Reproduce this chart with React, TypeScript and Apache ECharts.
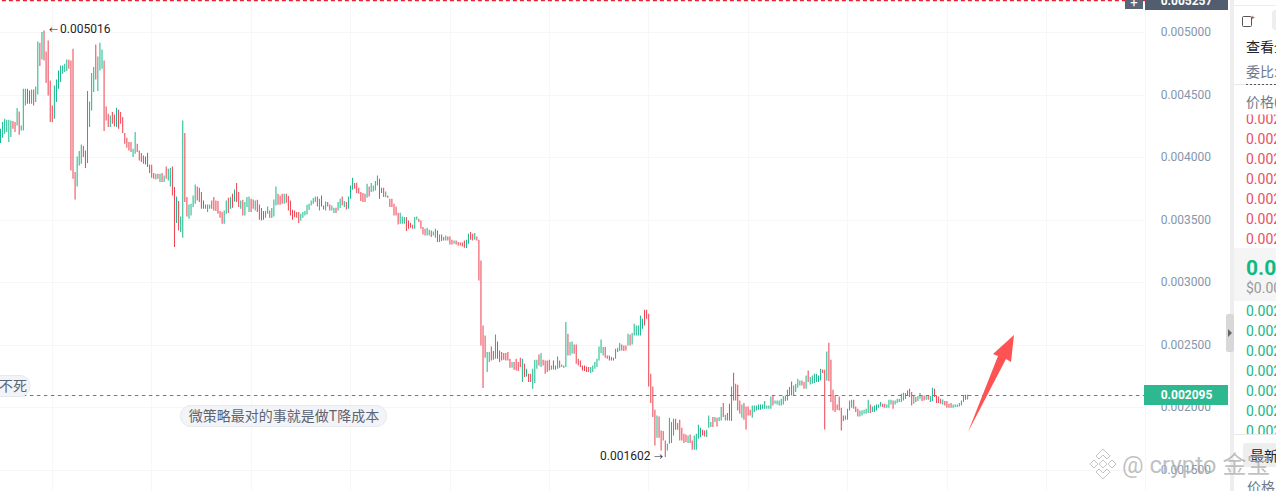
import React, { useEffect, useRef } from "react";
import * as echarts from "echarts";

// Per-candle highs, lows (in millionths of a price unit), and direction (g = up, r = down)
const highs = [
  4229,4283,4309,4301,4301,4296,4291,4283,4395,4368,
  4256,4549,4549,4549,4536,4544,4544,4568,4928,4917,
  5003,5016,4848,4936,4616,4416,4576,4624,4696,4736,
  4736,4749,4784,4781,4776,4869,3883,4008,4051,4104,
  4091,4056,4531,4448,4675,4723,4904,4808,4917,4864,
  4776,4408,4349,4336,4363,4344,4397,4381,4363,4323,
  4195,4157,4123,4123,4069,4203,4109,4056,4035,4016,
  4008,4037,3944,3941,3875,3869,3869,3869,3875,3856,
  3928,3909,3915,3928,3763,3688,3651,3528,4296,4195,
  3683,3624,3629,3696,3784,3768,3757,3723,3656,3624,
  3624,3624,3656,3683,3656,3651,3571,3563,3576,3656,
  3677,3683,3709,3744,3795,3723,3656,3661,3643,3683,
  3688,3669,3664,3656,3661,
  3624,3595,3571,3571,3608,3576,3595,3664,3768,3709,
  3696,3709,3709,3709,3691,3656,3581,3576,3563,3563,
  3549,3563,3571,3621,3629,3656,3675,3688,3688,3669,
  3696,3616,3648,3643,3624,3616,3597,3597,3643,3669,
  3688,3651,3643,3688,3776,3837,3795,3797,3757,3723,
  3715,3709,3789,3768,3795,3776,3811,3856,3829,3757,
  3757,3728,3696,3669,3669,3629,3608,3557,3557,3528,
  3523,3523,3496,3477,3461,3523,3528,3509,3496,3443,
  3429,3437,3421,3416,3408,3429,3416,3384,3384,3363,
  3376,3368,3368,3341,3336,3336,3323,3320,3320,3336,
  3341,3389,3403,3389,3395,3368,3341,3176,2656,2576,
  2443,2443,2488,2451,2584,2528,2456,2443,2435,2435,
  2443,2389,2363,2363,2389,2363,
  2397,2389,2349,2309,2269,2269,2309,2381,2381,2424,
  2435,2381,2376,2376,2381,2336,2376,2336,2408,2376,
  2344,2336,2683,2589,2523,2528,2504,2504,2389,2376,
  2336,2336,2328,2323,2323,2336,2363,2389,2488,2544,
  2483,2483,2416,2416,2403,2397,2469,2477,2515,2504,
  2496,2496,2589,2584,2595,2669,2656,2656,2736,2709,
  2781,2781,2749,2269,2168,1981,1936,1928,1816,1811,
  1736,1709,1917,1883,1909,1909,1875,1901,1837,1789,
  1784,1776,1784,1736,1776,1789,1861,1837,1821,1816,
  1821,1936,1883,1923,1923,1917,1923,2003,2035,1941,
  1955,
  2029,
  2168,2277,2189,2181,2056,2024,2035,2008,2008,1981,
  2016,2016,2016,2024,2024,2024,2051,2016,2016,2088,
  2091,2056,2056,2056,2069,2091,2096,2141,2163,2208,
  2176,2189,2229,2216,2216,2203,2256,2296,2243,2256,
  2269,2269,2256,2309,2304,2301,2448,2517,2381,2141,
  2096,2024,2088,1997,1936,1936,1989,2056,2061,2061,
  2008,1989,1976,1976,1981,1989,2061,2024,2008,2016,
  2024,2024,2043,2029,2029,2024,2061,2061,2056,2056,
  2069,2069,2109,2117,2115,2136,2149,2123,2096,2083,
  2091,2115,2096,2096,2096,2096,2091,2157,2149,2096,
  2088,2069,2064,2051,2051,2029,2035,2024,2024,2024,
  2035,2056,2096,2101,2101,
];

const lows = [
  4115,4157,4189,4203,4123,4163,4229,4203,4256,4181,
  4216,4216,4416,4429,4429,4429,4416,4443,4504,4731,
  4784,4776,4595,4496,4283,4283,4309,4443,4549,4603,
  4669,4683,4691,4709,3896,3829,3664,3768,3936,3949,
  4003,3915,3955,4243,4376,4523,4624,4531,4696,4709,
  4211,4296,4243,4243,4269,4248,4243,4229,4269,4195,
  4109,4077,4056,4043,4003,4029,4043,3976,3963,3949,
  3944,3923,3875,3837,3829,3824,3829,3803,3803,3803,
  3829,3816,3768,3696,3283,3475,3416,3403,3357,3643,
  3528,3509,3536,3603,3629,3656,3643,3589,3589,3589,
  3563,3589,3589,3576,3571,3549,3517,3469,3469,3549,
  3555,3589,3597,3648,3643,3603,3589,3536,3536,3603,
  3563,3563,3589,3576,3563,
  3501,3496,3501,3517,3549,3517,3515,3528,3616,3621,
  3621,3629,3629,3637,3576,3536,3501,3523,3517,3475,
  3496,3517,3536,3544,3581,3616,3629,3643,3608,3576,
  3608,3584,3576,3608,3576,3576,3555,3555,3576,3595,
  3616,3603,3584,3589,3669,3741,3749,3715,3709,3651,
  3643,3643,3677,3688,3723,3728,3736,3776,3669,3715,
  3683,3683,3675,3603,3603,3536,3536,3464,3469,3469,
  3469,3411,3429,3437,3429,3429,3501,3483,3429,3384,
  3376,3376,3376,3363,3376,3357,3323,3323,3331,3336,
  3336,3336,3304,3304,3309,3304,3296,3296,3288,3277,
  3275,3309,3341,3336,3341,3336,3016,2496,2155,2397,
  2283,2363,2376,2381,2389,2389,2363,2376,2381,2376,
  2376,2317,2317,2301,2296,2291,
  2323,2203,2243,2248,2203,2203,2149,2195,2309,2336,
  2323,2336,2269,2283,2296,2301,2304,2301,2309,2317,
  2323,2315,2323,2416,2416,2429,2429,2349,2336,2323,
  2296,2291,2283,2283,2275,2283,2309,2323,2376,2435,
  2416,2397,2389,2376,2376,2376,2389,2443,2451,2456,
  2451,2456,2496,2496,2504,2576,2576,2576,2576,2629,
  2656,2709,2168,2035,1923,1696,1757,1757,1656,1736,
  1603,1656,1709,1715,1776,1821,1821,1736,1736,1715,
  1723,1715,1715,1661,1661,1661,1749,1763,1776,1768,
  1763,1837,1843,1843,1883,1848,1891,1896,1923,1896,
  1896,
  1896,
  1891,2056,2056,1976,1949,1917,1901,1824,1936,1936,
  1917,1963,1976,1981,1981,1989,1989,1989,1989,1989,
  2016,2029,2024,2016,2016,2024,2051,2056,2096,2096,
  2096,2123,2157,2176,2176,2149,2149,2203,2184,2189,
  2195,2203,2203,2216,2275,1824,2216,2211,2043,1976,
  1963,1981,1976,1816,1891,1901,1901,1976,1997,1989,
  1963,1928,1928,1936,1949,1949,1955,1955,1963,1963,
  1976,1997,2008,2003,1997,1997,1997,2024,1989,2024,
  2035,2043,2043,2056,2069,2096,2083,2016,2029,2043,
  2051,2069,2051,2056,2061,2061,2043,2051,2083,2035,
  2035,2029,2024,2016,1997,1997,1997,1997,2003,2003,
  2008,2016,2043,2061,2064,
];

const directions = [
  "ggggggrrgr","gggrrgrggr","grrrrrgggg","gggrrrrggg","rrggggrggg",
  "rrrgrrgrrr","rrrrggrrrr","rrrrrgrgrg","rggrrgrggr","rggggrrrrg",
  "ggrrrrrrgg","rgrgrrgrgg","grrgr",
  "rrrggrgggr","rrgrrrrrrr","ggggggggrg","rrgrrggrgg","rgrgggrrrr",
  "rrgrggggrr","rgrrrrrrgg","grrrrggrrr","rggrggrgrr","grrrgrrrrr",
  "ggrrgrrrrr","ggrrgrrrrr","rrgrrr",
  "rgrgrrgggr","grrrrgrggr","gggrggrrrr","rrrrgggggg","grrrrrgggr",
  "rrgrgggggg","rrrrrrgrrr","rggggrrrrr","rgrrggggrr","gggrgrggrg",
  "r",
  "r",
  "grrrrgrrrr","gggggggggg","rggggggggr","ggggrrgrgg","ggggrrgrrr",
  "rrrrrggggr","rrgggggrgg","gggrrgggrg","gggggrrrgr","ggrrgrggrr",
  "rrgrrrrggg","gggrg",
].join("");

const openPrice = 5257;
const lastPrice = 2095;
const peakLabel = "0.005016";
const troughLabel = "0.001602";
const askRows = [119, 139, 159, 179, 199, 219, 239];
const bidRows = [311, 331, 351, 371, 391, 411, 431];

const UP = "#14b88a";
const DOWN = "#ee3f4f";
const FONT = "Roboto, 'Noto Sans CJK SC', sans-serif";
const firstSlot = 23;

function renderCandle(_p: any, api: any) {
  const slot = api.value(0);
  const open = api.value(1);
  const close = api.value(2);
  const top = api.coord([slot, api.value(4)]);
  const bottom = api.coord([slot, api.value(3)]);
  const w = 1;
  return {
    type: "rect",
    shape: { x: top[0] - w / 2, y: top[1], width: w, height: Math.max(bottom[1] - top[1], 1) },
    style: { fill: close >= open ? UP : DOWN },
  };
}

const txt = (text: string, x: number, y: number, fill: string, size = 14, extra: any = {}) => ({
  type: "text",
  z: 120,
  x,
  y,
  style: { text, fill, font: `${extra.weight || 400} ${size}px ${FONT}`, verticalAlign: "middle", align: extra.align || "left" },
});
const box = (x: number, y: number, width: number, height: number, fill: string, r = 0, stroke?: string, z = 110) => ({
  type: "rect",
  z,
  shape: { x, y, width, height, r },
  style: { fill, stroke, lineWidth: stroke ? 1 : 0 },
});

export default function App() {
  const ref = useRef<HTMLDivElement>(null);
  useEffect(() => {
    const chart = echarts.init(ref.current!, null, { renderer: "svg" });
    const n = Math.min(highs.length, lows.length, directions.length);
    const data: number[][] = [];
    for (let i = 0; i < n; i++) {
      const hi = highs[i] / 1e6;
      const lo = lows[i] / 1e6;
      const up = directions[i] === "g";
      data.push([i + firstSlot, up ? lo : hi, up ? hi : lo, lo, hi]);
    }
    const logoPiece = (pts: number[][], z = 115) => ({
      type: "polygon",
      z,
      shape: { points: pts },
      style: { fill: "rgba(255,255,255,0.75)", stroke: "rgba(150,150,150,0.55)", lineWidth: 1 },
    });
    const priceLine = (value: number, color: string, width: number, dash: number[]) => ({
      type: "line",
      data: [[0, value / 1e6], [576, value / 1e6]],
      symbol: "none",
      silent: true,
      clip: false,
      z: 3,
      lineStyle: { color, type: dash, width },
    });
    chart.setOption({
      animation: false,
      backgroundColor: "#ffffff",
      grid: { left: -47.1, width: 1192.8, top: -30.125, height: 562.5, containLabel: false, outerBoundsMode: "none" },
      xAxis: {
        type: "value",
        min: 0,
        max: 576,
        interval: 48,
        axisLine: { show: false },
        axisTick: { show: false },
        axisLabel: { show: false },
        splitLine: { show: true, lineStyle: { color: "#f7f7f8", width: 1 } },
      },
      yAxis: {
        type: "value",
        position: "right",
        min: 0.001,
        max: 0.0055,
        interval: 0.0005,
        axisLine: { show: false },
        axisTick: { show: true, length: 5, lineStyle: { color: "#f5f5f6" } },
        axisLabel: {
          margin: 15,
          color: "#8496ab",
          fontSize: 12,
          fontFamily: FONT,
          formatter: (v: number) => v.toFixed(6),
        },
        splitLine: { show: true, lineStyle: { color: "#f6f6f7", width: 1 } },
      },
      series: [
        {
          type: "custom",
          renderItem: renderCandle,
          data,
          encode: { x: 0, y: [1, 2, 3, 4] },
          clip: true,
        },
        priceLine(lastPrice, "#2f9e80", 1, [3.5, 3.5]),
        priceLine(openPrice, "#e5202f", 2, [4, 3]),
      ],
      graphic: [
        // Extreme markers
        txt("←", 49, 30, "#1e2329", 9),
        txt(peakLabel, 60, 29, "#1e2329", 12),
        txt(troughLabel, 600, 456, "#1e2329", 12),
        txt("→", 654, 456.5, "#1e2329", 9),
        // Note pills
        box(-30, 375.5, 60, 21, "#f3f4f8", 10, "#e6e8ef"),
        txt("不死", -1, 385.5, "#5b6472", 14),
        box(180.5, 405.5, 206, 21, "#f3f4f8", 10, "#e6e8ef"),
        txt("微策略最对的事就是做T降成本", 284, 416, "#5b6472", 14, { align: "center" }),
        // Red arrow
        {
          type: "polygon",
          z: 112,
          shape: { points: [[968, 432], [998, 356], [993, 354], [1014, 335], [1011, 362], [1006, 359]] },
          style: { fill: "#ff5252" },
        },
        // Price tags
        box(1125, -2, 18, 11, "#5a6678"),
        txt("+", 1134, 2, "#ffffff", 13, { align: "center" }),
        box(1145, -2, 83, 12, "#525e70"),
        txt("0.005257", 1186.5, 1, "#ffffff", 12, { align: "center", weight: 700 }),
        box(1144, 385, 84, 20, "#2db88f"),
        txt("0.002095", 1186.5, 395, "#ffffff", 12, { align: "center", weight: 700 }),
        // Side panel
        box(1230, 0, 46, 491, "#ffffff", 0, undefined, 104),
        box(1230, 0, 4, 491, "#eeeeee", 0, undefined, 105),
        box(1234, 5, 42, 1, "#ededed", 0, undefined, 105),
        box(1242.5, 16.5, 9, 10, "#ffffff", 1, "#555555"),
        txt("+", 1250.5, 17, "#555555", 8),
        box(1272, 10, 10, 20, "#eeeeee", 3),
        txt("查看全", 1246, 47, "#1e2329", 14),
        txt("委比:", 1246, 72, "#707a8a", 14),
        box(1234, 84, 42, 1, "#e8e8e8", 0, undefined, 105),
        {
          type: "line",
          z: 111,
          shape: { x1: 1246, y1: 84.5, x2: 1276, y2: 84.5 },
          style: { stroke: "#555555", lineDash: [2, 2], lineWidth: 1 },
        },
        txt("价格(", 1246, 102, "#707a8a", 14),
        ...askRows.map((y) => txt("0.002", 1246, y, "#e9505f", 14)),
        box(1234, 112, 42, 2.5, "#ffffff", 0, undefined, 125),
        box(1234, 248, 42, 53, "#f5f5f5", 0, undefined, 105),
        txt("0.00", 1246, 268, "#10b981", 21, { weight: 700 }),
        txt("$0.00", 1246, 288, "#9a9a9a", 14),
        ...bidRows.map((y) => txt("0.002", 1246, y, "#12b886", 14)),
        box(1234, 434, 42, 8, "#ffffff", 0, undefined, 125),
        box(1234, 434, 42, 1, "#e8e8e8", 0, undefined, 126),
        box(1243, 443, 40, 24, "#eeeeee", 3),
        txt("最新", 1250, 456, "#1e2329", 14),
        txt("价格", 1247, 487, "#707a8a", 14),
        box(1226, 314, 8, 38, "#d8d8d8", 2),
        { type: "polygon", z: 115, shape: { points: [[1228, 329], [1232, 333], [1228, 337]] }, style: { fill: "#666666" } },
        // Watermark
        logoPiece([[1103, 449], [1110, 456], [1107, 459], [1103, 455], [1099, 459], [1096, 456]]),
        logoPiece([[1103, 479], [1110, 472], [1107, 469], [1103, 473], [1099, 469], [1096, 472]]),
        logoPiece([[1090, 464], [1094, 460], [1098, 464], [1094, 468]]),
        logoPiece([[1116, 464], [1112, 460], [1108, 464], [1112, 468]]),
        logoPiece([[1103, 460], [1107, 464], [1103, 468], [1099, 464]]),
        {
          type: "text",
          z: 130,
          x: 1122,
          y: 465,
          style: {
            text: "@ crypto 金宝",
            fill: "rgba(130,130,130,0.5)",
            stroke: "rgba(255,255,255,0.5)",
            lineWidth: 1,
            font: `400 24px ${FONT}`,
            verticalAlign: "middle",
          },
        },
      ],
    });
    return () => chart.dispose();
  }, []);
  return (
    <div
      ref={ref}
      style={{ position: "fixed", left: 0, top: 0, width: 1276, height: 491, background: "#fff" }}
    />
  );
}
